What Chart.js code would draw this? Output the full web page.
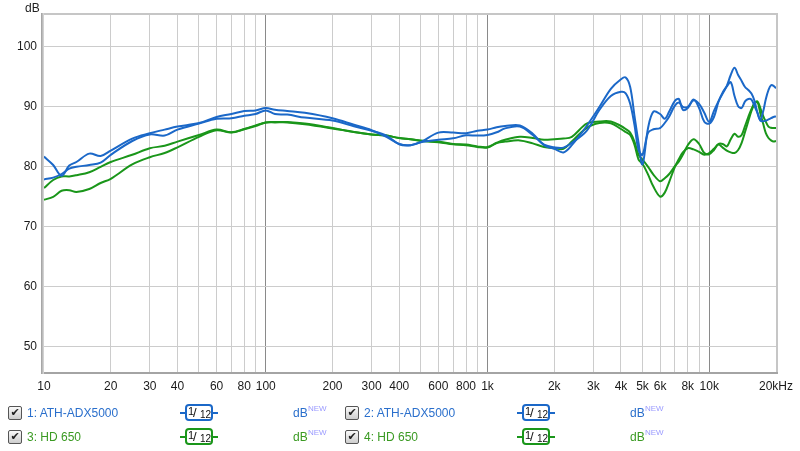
<!DOCTYPE html>
<html>
<head>
<meta charset="utf-8">
<script src="https://cdn.jsdelivr.net/npm/chart.js@4"></script>
<style>
  body { margin: 0; background: #fff; font-family: "Liberation Sans", Arial, sans-serif; }
  #wrap { position: relative; width: 800px; height: 451px; overflow: hidden; }
  #c { position: absolute; left: 0; top: 0; }
  .txt { position: absolute; white-space: nowrap; font-size: 12px; line-height: 14px; }
  .chk { position: absolute; width: 12px; height: 12px; border: 1px solid #555; border-radius: 2px;
         background: linear-gradient(#fafafa, #cdcdcd); font-family: "DejaVu Sans"; font-size: 11px;
         line-height: 12px; text-align: center; color: #222; }
  .frac { position: absolute; width: 24px; height: 13px; border: 2px solid; border-radius: 4px; background: #fff; color: #111; }
  .frac span { position: absolute; line-height: 10px; }
  .stub { position: absolute; height: 2px; }
  .new { position: absolute; font-size: 8px; line-height: 8px; color: #9a9aff; }
</style>
</head>
<body>
<div id="wrap">
  <canvas id="c" width="800" height="451"></canvas>
  <div class="txt" style="left:25px; top:1px; color:#222;">dB</div>
  <div id="legend"></div>
</div>
<script>
// frequenze (Hz)
const freqs = [
  10, 11, 12, 13, 14, 16, 18, 20,
  25, 30, 35, 40, 50, 60, 70, 80, 90, 100, 110,
  125, 150, 200, 250, 300, 350, 400, 450, 500, 600, 700,
  800, 900, 1000, 1100, 1200, 1400, 1600, 1800, 2000, 2200, 2400, 2800, 3200,
  3600, 4000, 4200, 4400, 4600, 4800, 5000, 5300, 5600, 6000, 6300, 6600, 7000,
  7300, 7600, 8000, 8500, 9000, 9500, 10000, 10500, 11000, 11500, 12000,
  12500, 13000, 13500, 14000, 14500, 15000, 15500, 16000, 16500, 17000, 17500, 18000, 18500, 19000, 19500, 20000
];

// 1: ATH-ADX5000
const adx1 = [
  81.7, 80.3, 78.5, 80.2, 80.8, 82.2, 81.8, 82.7,
  84.7, 85.6, 86.2, 86.7, 87.3, 88.3, 88.8, 89.3, 89.4, 89.8, 89.5,
  89.3, 89.0, 88.1, 87.0, 86.1, 85.0, 83.8, 83.6, 84.1, 85.7, 85.7,
  85.6, 86.0, 86.2, 86.6, 86.8, 86.9, 85.5, 83.6, 83.0, 82.4, 83.6, 86.8, 90.0,
  93.0, 94.6, 94.9, 93.3, 88.5, 84.0, 80.4, 86.5, 89.2, 88.8, 88.0, 89.2, 91.0,
  91.3, 89.5, 89.8, 91.2, 89.8, 87.5, 87.2, 88.3, 90.8, 92.4, 93.5,
  95.3, 96.5, 95.3, 94.3, 93.3, 92.8, 92.2, 91.0, 89.0, 87.8, 89.2, 91.3, 92.8, 93.6, 93.5, 93.1
];

// 2: ATH-ADX5000
const adx2 = [
  77.9, 78.2, 78.8, 79.7, 80.0, 80.3, 80.7, 82.0,
  84.3, 85.4, 85.2, 86.2, 87.2, 88.0, 88.1, 88.5, 88.8, 89.4, 88.8,
  88.7, 88.2, 87.7, 86.75, 86.0, 85.2, 83.75, 83.6, 84.1, 84.5, 84.75,
  85.25, 85.2, 85.3, 85.75, 86.4, 86.7, 85.3, 83.7, 83.25, 83.2, 84.0, 86.0, 89.5,
  91.8, 92.5, 92.25, 90.5, 87.0, 82.8, 82.0, 85.7, 86.25, 86.45, 87.3, 88.4, 90.2,
  90.7, 90.0, 90.0, 91.1, 90.5, 89.0, 87.5, 89.3, 90.9, 92.2, 93.4,
  94.1, 91.8, 90.1, 89.8, 90.9, 91.3, 91.2, 90.1, 89.0, 87.7, 87.6, 87.7, 87.9, 88.1, 88.3, 88.4
];

// 3: HD 650
const hd1 = [
  76.45, 77.8, 78.4, 78.4, 78.6, 79.1, 80.0, 80.8,
  82.0, 83.1, 83.5, 84.2, 85.3, 86.2, 85.75, 86.3, 86.9, 87.4, 87.45,
  87.45, 87.2, 86.45, 85.8, 85.4, 85.2, 84.8, 84.6, 84.4, 84.2, 83.8,
  83.7, 83.4, 83.3, 84.0, 84.5, 85.0, 84.8, 84.5, 84.6, 84.7, 85.0, 87.2, 87.55,
  87.55, 86.8, 86.3, 85.7, 84.2, 82.0, 81.2, 80.0, 78.7, 77.6, 78.1, 78.8, 80.1,
  80.9, 82.0, 83.6, 84.6, 83.8, 82.3, 82.1, 82.8, 83.8, 83.8, 83.4,
  84.6, 85.5, 85.0, 85.3, 86.8, 88.3, 89.6, 90.6, 90.9, 89.8, 88.5, 87.5, 86.7, 86.5, 86.45, 86.45
];

// 4: HD 650
const hd2 = [
  74.5, 75.0, 76.0, 76.1, 75.8, 76.3, 77.3, 78.0,
  80.4, 81.6, 82.3, 83.25, 85.0, 86.1, 85.7, 86.25, 86.8, 87.4, 87.4,
  87.4, 87.1, 86.4, 85.8, 85.4, 85.2, 84.8, 84.6, 84.3, 84.1, 83.75,
  83.6, 83.3, 83.2, 83.95, 84.2, 84.4, 83.9, 83.3, 83.1, 83.0, 84.2, 86.5, 87.3,
  87.25, 86.3, 85.8, 85.3, 83.7, 81.2, 80.5, 78.7, 76.7, 75.05, 75.7, 77.5, 80.0,
  81.3, 82.4, 83.1, 82.9, 82.5, 82.0, 82.3, 83.0, 83.7, 83.2, 82.7,
  82.4, 82.3, 82.8, 84.0, 85.8, 87.6, 89.3, 90.5, 90.8, 88.9, 87.2, 85.6, 84.8, 84.4, 84.2, 84.3
];

const seriesValues = [adx1, adx2, hd1, hd2];
const seriesNames = ['1: ATH-ADX5000', '2: ATH-ADX5000', '3: HD 650', '4: HD 650'];
const lineColors = ['#1b68c8', '#1b68c8', '#1a961a', '#1a961a'];
const textColors = ['#2a6fcc', '#2a6fcc', '#3a9a22', '#3a9a22'];

const yTicks = [50, 60, 70, 80, 90, 100];
const xGrid = [10, 20, 30, 40, 50, 60, 70, 80, 90,
  100, 200, 300, 400, 500, 600, 700, 800, 900,
  1000, 2000, 3000, 4000, 5000, 6000, 7000, 8000, 9000, 10000, 20000];
const xLabelFreqs = [10, 20, 30, 40, 60, 80, 100, 200, 300, 400, 600, 800,
  1000, 2000, 3000, 4000, 5000, 6000, 8000, 10000, 20000];
const xLabelTexts = ['10', '20', '30', '40', '60', '80', '100', '200', '300', '400', '600', '800',
  '1k', '2k', '3k', '4k', '5k', '6k', '8k', '10k', '20kHz'];
const decades = [100, 1000, 10000];

// cornice del grafico
const framePlugin = {
  id: 'frame',
  beforeDatasetsDraw(chart) {
    const { ctx, chartArea: a } = chart;
    ctx.save();
    const g = ctx.createLinearGradient(a.left - 3, 0, a.left, 0);
    g.addColorStop(0, '#9c9c9c');
    g.addColorStop(1, '#dcdcdc');
    ctx.fillStyle = '#c6c6c6';
    ctx.fillRect(a.left - 3, a.top - 2, a.right - a.left + 5, 2);
    ctx.fillRect(a.right, a.top - 2, 2, a.bottom - a.top + 4);
    ctx.fillStyle = '#a4a4a4';
    ctx.fillRect(a.left - 3, a.bottom, a.right - a.left + 5, 2);
    ctx.fillStyle = g;
    ctx.fillRect(a.left - 3, a.top - 2, 3, a.bottom - a.top + 4);
    ctx.restore();
  }
};

const tickFont = { family: 'Liberation Sans, Arial, sans-serif', size: 12 };

new Chart(document.getElementById('c'), {
  type: 'line',
  data: {
    datasets: seriesValues.map((vals, i) => ({
      label: seriesNames[i],
      data: freqs.map((f, j) => ({ x: f, y: vals[j] })),
      borderColor: lineColors[i],
      borderWidth: 2,
      pointRadius: 0,
      tension: 0.35,
      fill: false
    }))
  },
  options: {
    responsive: false,
    animation: false,
    events: [],
    layout: { padding: { left: 0, right: 22, top: 15, bottom: 0 } },
    plugins: { legend: { display: false }, tooltip: { enabled: false } },
    scales: {
      x: {
        type: 'logarithmic',
        min: 10,
        max: 20000,
        afterBuildTicks: s => { s.ticks = xGrid.map(v => ({ value: v })); },
        afterFit: s => { s.height = 79; },
        border: { display: false },
        grid: {
          drawTicks: false,
          color: c => {
            const v = c.tick ? c.tick.value : 0;
            if (v === 10 || v === 20000) return 'rgba(0,0,0,0)';
            return decades.includes(v) ? '#8a8a8a' : '#cccccc';
          }
        },
        ticks: {
          autoSkip: false,
          maxRotation: 0,
          padding: 7,
          color: '#1a1a1a',
          font: tickFont,
          callback: v => {
            const k = xLabelFreqs.indexOf(v);
            return k < 0 ? '' : xLabelTexts[k];
          }
        }
      },
      y: {
        min: 45.8,
        max: 105.3,
        afterBuildTicks: s => { s.ticks = yTicks.map(v => ({ value: v })); },
        afterFit: s => { s.width = 44; },
        border: { display: false },
        grid: { drawTicks: false, color: '#cccccc' },
        ticks: { padding: 7, color: '#1a1a1a', font: tickFont }
      }
    }
  },
  plugins: [framePlugin]
});

// legenda in basso
const legend = document.getElementById('legend');
seriesNames.forEach((name, i) => {
  const dx = (i % 2) * 337;
  const dy = Math.floor(i / 2) * 24;
  const col = lineColors[i];
  legend.insertAdjacentHTML('beforeend', `
    <div class="chk" style="left:${8 + dx}px; top:${406 + dy}px;">✔</div>
    <div class="txt" style="left:${27 + dx}px; top:${406 + dy}px; color:${textColors[i]};">${name}</div>
    <div class="stub" style="left:${180 + dx}px; top:${412 + dy}px; width:6px; background:${col};"></div>
    <div class="stub" style="left:${212 + dx}px; top:${412 + dy}px; width:6px; background:${col};"></div>
    <div class="frac" style="left:${185 + dx}px; top:${404 + dy}px; border-color:${col};">
      <span style="left:1px; top:0px; font-size:11px;">1</span>
      <span style="left:6px; top:0px; font-size:13px; line-height:13px;">/</span>
      <span style="left:13px; top:4px; font-size:10px;">12</span>
    </div>
    <div class="txt" style="left:${293 + dx}px; top:${406 + dy}px; color:${textColors[i]};">dB</div>
    <div class="new" style="left:${308 + dx}px; top:${405 + dy}px;">NEW</div>
  `);
});
</script>
</body>
</html>
